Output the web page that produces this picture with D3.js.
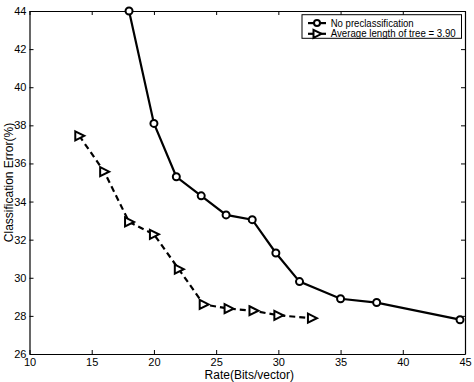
<!DOCTYPE html>
<html>
<head>
<meta charset="utf-8">
<script src="https://cdn.jsdelivr.net/npm/d3@7"></script>
<style>
  body { margin: 0; background: #fff; }
  svg text { font-family: "Liberation Sans", Arial, sans-serif; fill: #000; }
</style>
</head>
<body>
<div id="chart"></div>
<script>
// values
const rateNoPre = [18, 20, 21.8, 23.8, 25.8, 27.9, 29.8, 31.7, 35, 37.9, 44.6];
const errNoPre  = [44, 38.1, 35.3, 34.3, 33.3, 33.05, 31.3, 29.8, 28.9, 28.7, 27.8];
const rateTree = [14, 16, 18, 20, 22, 24, 26, 28, 30, 32.7];
const errTree  = [37.45, 35.57, 32.93, 32.28, 30.45, 28.6, 28.38, 28.27, 28.03, 27.88];
const seriesNames = ["No preclassification", "Average length of tree = 3.90"];
const xTicks = [10, 15, 20, 25, 30, 35, 40, 45];
const yTicks = [26, 28, 30, 32, 34, 36, 38, 40, 42, 44];

const W = 474, H = 382;
const margin = { top: 11, right: 9, bottom: 28, left: 29.5 };
const width = W - margin.left - margin.right;
const height = H - margin.top - margin.bottom;

const svg = d3.select("#chart").append("svg")
  .attr("width", W).attr("height", H);
const g = svg.append("g")
  .attr("transform", `translate(${margin.left},${margin.top})`);

const x = d3.scaleLinear().domain([10, 45]).range([0, width]);
const y = d3.scaleLinear().domain([26, 44]).range([height, 0]);

// matlab-style box with inward ticks on all sides
const tk = 4;
g.append("g").attr("transform", `translate(0,${height})`)
  .call(d3.axisBottom(x).tickValues(xTicks).tickSizeInner(-tk).tickSizeOuter(0).tickPadding(4.5))
  .call(a => a.selectAll("text").style("font-size", "11px"));
g.append("g")
  .call(d3.axisTop(x).tickValues(xTicks).tickSizeInner(-tk).tickSizeOuter(0).tickFormat(""));
g.append("g")
  .call(d3.axisLeft(y).tickValues(yTicks).tickSizeInner(-tk).tickSizeOuter(0).tickPadding(3))
  .call(a => a.selectAll("text").style("font-size", "11px"));
g.append("g").attr("transform", `translate(${width},0)`)
  .call(d3.axisRight(y).tickValues(yTicks).tickSizeInner(-tk).tickSizeOuter(0).tickFormat(""));
g.selectAll(".domain").attr("stroke", "#000").attr("stroke-width", 1.2);
g.selectAll(".tick line").attr("stroke", "#000");

// axis labels
svg.append("text")
  .attr("x", margin.left + width / 2 + 2).attr("y", H - 3.5)
  .attr("text-anchor", "middle").style("font-size", "12px")
  .text("Rate(Bits/vector)");
svg.append("text")
  .attr("transform", `translate(13,${margin.top + height / 2}) rotate(-90)`)
  .attr("text-anchor", "middle").style("font-size", "12px")
  .text("Classification Error(%)");

const line = d3.line().x(d => x(d[0])).y(d => y(d[1]));
const noPre = rateNoPre.map((r, i) => [r, errNoPre[i]]);
const tree = rateTree.map((r, i) => [r, errTree[i]]);

const tri = "M-4,-4.5L5,0L-4,4.5Z";

g.append("path").datum(noPre).attr("d", line)
  .attr("fill", "none").attr("stroke", "#000").attr("stroke-width", 2.2);
g.append("path").datum(tree).attr("d", line)
  .attr("fill", "none").attr("stroke", "#000").attr("stroke-width", 2.2)
  .attr("stroke-dasharray", "6,4");

g.selectAll(".circ").data(noPre).enter().append("circle")
  .attr("cx", d => x(d[0])).attr("cy", d => y(d[1])).attr("r", 3.5)
  .attr("fill", "#fff").attr("stroke", "#000").attr("stroke-width", 2);
g.selectAll(".tri").data(tree).enter().append("path")
  .attr("transform", d => `translate(${x(d[0])},${y(d[1])})`)
  .attr("d", tri)
  .attr("fill", "#fff").attr("stroke", "#000").attr("stroke-width", 2);

// legend
const legendTextWidth = [83, 125]; // widths of the labels in the reference
const lg = svg.append("g").attr("transform", "translate(302,14.7)");
lg.append("rect").attr("width", 159.5).attr("height", 23.6)
  .attr("fill", "#fff").attr("stroke", "#000").attr("stroke-width", 1);
seriesNames.forEach((name, i) => {
  const yy = 8.4 + i * 10.7;
  lg.append("line").attr("x1", 6).attr("x2", 24).attr("y1", yy).attr("y2", yy)
    .attr("stroke", "#000").attr("stroke-width", 2.2);
  if (i === 0) {
    lg.append("circle").attr("cx", 15).attr("cy", yy).attr("r", 3)
      .attr("fill", "#fff").attr("stroke", "#000").attr("stroke-width", 2);
  } else {
    lg.append("path").attr("transform", `translate(15,${yy})`).attr("d", "M-3.5,-4L4.5,0L-3.5,4Z")
      .attr("fill", "#fff").attr("stroke", "#000").attr("stroke-width", 2);
  }
  lg.append("text").attr("x", 28.7).attr("y", yy).attr("dy", "0.36em")
    .attr("textLength", legendTextWidth[i]).attr("lengthAdjust", "spacingAndGlyphs")
    .style("font-size", "10.3px").text(name);
});
</script>
</body>
</html>
